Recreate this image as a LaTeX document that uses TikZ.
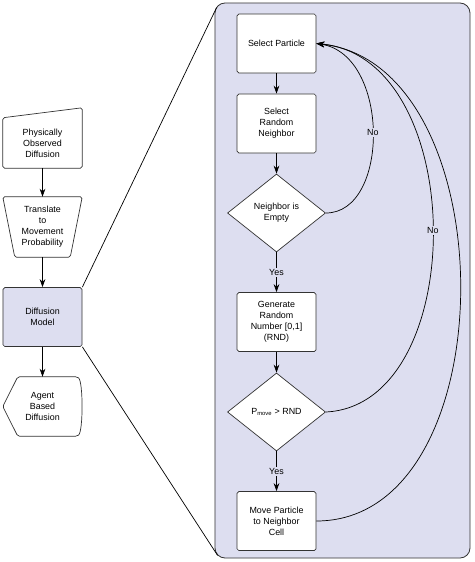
\documentclass[tikz,border=0pt]{standalone}
\usepackage{fontspec}
\setmainfont{Liberation Sans}
\usetikzlibrary{arrows.meta, positioning, shapes.geometric, calc}
\definecolor{lavender}{RGB}{221,222,240}

\begin{document}
\begin{tikzpicture}[
  x=0.03cm, y=-0.03cm,
  font=\fontsize{7.6}{9.4}\selectfont,
  % Define styles for different elements
  box/.style={draw=black!80, line width=0.6pt, rounded corners=1.5pt, fill=white, minimum width=2.37cm, minimum height=1.77cm, align=center, inner sep=1pt},
  modelbox/.style={box, fill=lavender},
  decision/.style={diamond, draw=black!80, line width=0.6pt, fill=white, minimum width=2.94cm, minimum height=2.34cm, align=center, inner sep=0pt},
  shapetext/.style={minimum width=2.37cm, align=center, inner sep=0pt},
  outline/.style={draw=black!80, line width=0.6pt, rounded corners=1.5pt},
  panel/.style={draw=black!80, line width=0.7pt, rounded corners=3mm, fill=lavender, minimum width=7.65cm, minimum height=16.65cm},
  arrow/.style={-{Stealth[length=2.4mm, width=1.7mm]}, line width=0.6pt},
  zoomline/.style={line width=0.6pt},
  tag/.style={fill=lavender, inner sep=1pt}
]

\useasboundingbox (0,0) rectangle (474,562);

% Zoomed panel (drawn first, behind everything)
\node[panel] (panel) at (342.5,280.5) {};

% Left column: overall model
\node[shapetext, minimum height=1.5cm] (observed) at (42.5,143) {Physically\\Observed\\Diffusion};
\draw[outline] (observed.south west) -- (observed.south east) -- ($(observed.north east)+(0,-10)$) -- (observed.north west) -- cycle;

\node[shapetext, minimum height=1.8cm] (translate) at (42.5,227) {Translate\\to\\Movement\\Probability};
\draw[outline] (translate.north west) -- (translate.north east) -- ($(translate.south east)+(-12,0)$) -- ($(translate.south west)+(12,0)$) -- cycle;

\node[modelbox] (model) at (42.5,317) {Diffusion\\Model};

\node[shapetext, minimum height=1.77cm] (agent) at (42.5,406.5) {Agent\\Based\\Diffusion};
\draw[outline] (agent.west) -- ($(agent.north west)+(15,0)$) -- ($(agent.north east)+(-5,0)$)
  .. controls ($(agent.north east)+(1,5)$) and ($(agent.south east)+(1,-5)$) .. ($(agent.south east)+(-5,0)$)
  -- ($(agent.south west)+(15,0)$) -- cycle;

\draw[arrow] (observed.south) -- (translate.north);
\draw[arrow] (translate.south) -- (model.north);
\draw[arrow] (model.south) -- (agent.north);

% Lines opening the model into the panel
\draw[zoomline] (model.north east) -- ($(panel.north west)+(2,5)$);
\draw[zoomline] (model.south east) -- ($(panel.south west)+(3,-3)$);

% Panel: particle movement steps
\node[box] (particle) at (276.5,43.5) {Select Particle};
\node[box] (neighbor) at (276.5,123.5) {Select\\Random\\Neighbor};
\node[decision] (empty) at (276.5,213) {Neighbor is\\Empty};
\node[box] (generate) at (276.5,322) {Generate\\Random\\Number [0,1]\\(RND)};
\node[decision] (pmove) at (276.5,412) {P\textsubscript{\tiny move} > RND};
\node[box] (move) at (276.5,521) {Move Particle\\to Neighbor\\Cell};

\draw[arrow] (particle.south) -- (neighbor.north);
\draw[arrow] (neighbor.south) -- (empty.north);
\draw[arrow] (empty.south) -- node[tag] {Yes} (generate.north);
\draw[arrow] (generate.south) -- (pmove.north);
\draw[arrow] (pmove.south) -- node[tag] {Yes} (move.north);

% Back to Select Particle
\draw[arrow] (empty.east) .. controls (390,213) and (390,55) .. (particle.east) node[tag, pos=0.5] {No};
\draw[arrow] (pmove.east) .. controls (470,405) and (470,58) .. (particle.east) node[tag, pos=0.5] {No};
\draw[arrow] (move.east) .. controls (508,521) and (508,64) .. (particle.east);

\end{tikzpicture}
\end{document}
